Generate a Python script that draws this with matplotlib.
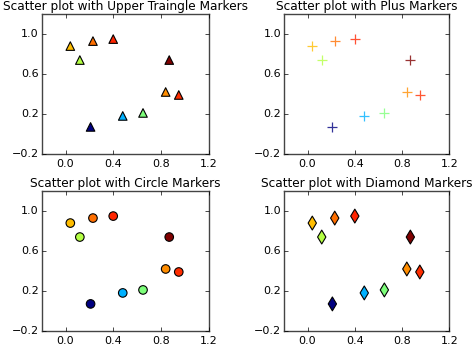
import numpy as np
import matplotlib
matplotlib.use('Agg')
import matplotlib.pyplot as plt

# point positions
x = [0.04, 0.12, 0.21, 0.23, 0.40, 0.48, 0.65, 0.87, 0.84, 0.95]
y = [0.88, 0.74, 0.07, 0.93, 0.95, 0.18, 0.21, 0.74, 0.42, 0.39]
# colour values (jet colormap)
c = [0.71, 0.57, 0.00, 0.79, 0.87, 0.30, 0.50, 1.00, 0.76, 0.86]

titles = ['Scatter plot with Upper Traingle Markers',
          'Scatter plot with Plus Markers',
          'Scatter plot with Circle Markers',
          'Scatter plot with Diamond Markers']
markers = ['^', '+', 'o', 'd']
xticks = [0.0, 0.4, 0.8, 1.2]
yticks = [-0.2, 0.2, 0.6, 1.0]

plt.style.use('classic')
fig = plt.figure(figsize=(4.74, 3.45), dpi=100, facecolor='white')

boxes = [[0.088, 0.554, 0.352, 0.405],
         [0.599, 0.554, 0.349, 0.405],
         [0.088, 0.041, 0.352, 0.405],
         [0.599, 0.041, 0.349, 0.405]]

for box, title, m in zip(boxes, titles, markers):
    ax = fig.add_axes(box)
    if m == '+':
        ax.scatter(x, y, c=c, cmap='jet', vmin=0, vmax=1, marker=m, s=50, linewidths=0.9, alpha=0.8)
    elif m == 'd':
        ax.scatter(x, y, c=c, cmap='jet', vmin=0, vmax=1, marker=m, s=50, edgecolors='black', linewidths=0.8)
    else:
        ax.scatter(x, y, c=c, cmap='jet', vmin=0, vmax=1, marker=m, s=38, edgecolors='black', linewidths=0.8)
    ax.set_xlim(-0.2, 1.2)
    ax.set_ylim(-0.2, 1.2)
    ax.set_xticks(xticks)
    ax.set_yticks(yticks)
    ax.tick_params(labelsize=8, length=3)
    ax.tick_params(axis='y', pad=2)
    for sp in ax.spines.values():
        sp.set_color('#444444')
    ax.set_title(title, fontsize=8.7, pad=3)

plt.savefig('out.png', dpi=100, facecolor='white')
